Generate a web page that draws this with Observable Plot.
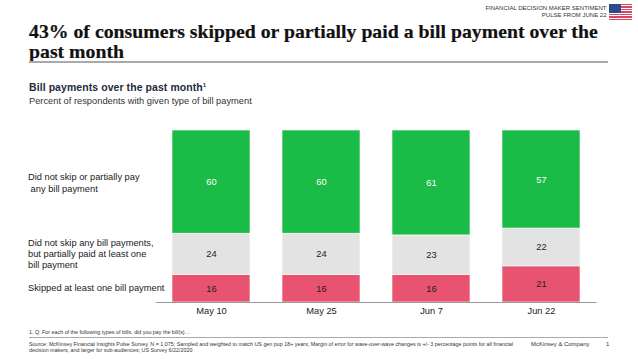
<!DOCTYPE html>
<html><head><meta charset="utf-8">
<script src="https://cdn.jsdelivr.net/npm/d3@7"></script>
<script src="https://cdn.jsdelivr.net/npm/@observablehq/plot@0.6"></script>
<style>
html,body{margin:0;padding:0;background:#fff;}
#page{position:relative;width:638px;height:359px;overflow:hidden;font-family:"Liberation Sans",Arial,sans-serif;color:#222;}
#page>div{position:absolute;white-space:nowrap;}
#chart{left:0;top:0;}
#chart svg{display:block;}
.title{left:29px;top:20.5px;font:bold 19.78px/20px "Liberation Serif",serif;color:#111;-webkit-text-stroke:.2px #111;}
.rule{background:#aaa;left:29px;width:579px;}
.sub1{left:29px;top:81px;font:bold 10.45px/13px "Liberation Sans";color:#1d2b3a;letter-spacing:.1px;}
.sub1 sup{font-size:6px;line-height:0;}
.sub2{left:29px;top:95px;font:9.3px/13px "Liberation Sans";color:#333;}
.head{right:31.5px;top:5px;text-align:right;font:6px/7px "Liberation Sans";color:#333;}
.row{left:28px;font:9.3px/11.2px "Liberation Sans";color:#222;}
.foot{left:29px;font:5.35px/6.2px "Liberation Sans";color:#333;}
#flag{left:609px;top:4px;width:23px;height:16px;background:repeating-linear-gradient(#d9465f 0 1.23px,#fff 1.23px 2.46px);}
#flag i{position:absolute;left:0;top:0;width:11.5px;height:8.6px;background:#2c4a8c;}
</style></head><body>
<div id="page">
<div id="chart"></div>
<div class="head">FINANCIAL DECISION MAKER SENTIMENT<br>PULSE FROM JUNE 22</div>
<div id="flag"><i></i></div>
<div class="title">43% of consumers skipped or partially paid a bill payment over the<br>past month</div>
<div class="rule" style="top:61px;height:1.5px"></div>
<div class="sub1">Bill payments over the past month<sup>1</sup></div>
<div class="sub2">Percent of respondents with given type of bill payment</div>
<div class="row" style="top:170.5px;line-height:12px">Did not skip or partially pay<br>&nbsp;any bill payment</div>
<div class="row" style="top:238px">Did not skip any bill payments,<br>but partially paid at least one<br>bill payment</div>
<div class="row" style="top:283px">Skipped at least one bill payment</div>
<div class="foot" style="top:329px">1. Q: For each of the following types of bills, did you pay the bill(s)…</div>
<div class="rule" style="top:337px;height:.8px"></div>
<div class="foot" style="top:340.5px">Source: McKinsey Financial Insights Pulse Survey, N = 1,075; Sampled and weighted to match US gen pop 18+ years; Margin of error for wave-over-wave changes is +/- 3 percentage points for all financial<br>decision makers, and larger for sub-audiences; US Survey 6/22/2020</div>
<div class="foot" style="left:531px;top:340.5px;font-size:5.95px">McKinsey &amp; Company</div>
<div class="foot" style="left:606px;top:340.5px;font-size:5.95px">1</div>
</div>
<script>
const waves = ["May 10", "May 25", "Jun 7", "Jun 22"];
const skipped = [16, 16, 16, 21];
const partial = [24, 24, 23, 22];
const paid = [60, 60, 61, 57];
const segments = ["Skipped", "Partial", "Paid"];
const segmentColors = ["#e8536f", "#e3e3e3", "#1bbb47"];
const segmentText = ["#222", "#222", "#ffffff"];

const rows = [];
[skipped, partial, paid].forEach((vals, s) => vals.forEach((v, i) => rows.push({wave: waves[i], segment: segments[s], value: v})));

const stack = {x: "wave", y: "value", z: "segment", order: segments};
const chart = Plot.plot({
  width: 638, height: 359,
  marginLeft: 156, marginRight: 41.4, marginTop: 130, marginBottom: 57,
  style: {background: "transparent", fontFamily: "'Liberation Sans',Arial,sans-serif"},
  x: {domain: waves, paddingInner: 0.292, paddingOuter: 0.146, label: null},
  y: {domain: [0, 100], axis: null},
  color: {domain: segments, range: segmentColors},
  marks: [
    Plot.barY(rows, Plot.stackY({...stack, fill: "segment", stroke: "#fff", strokeWidth: 0.6})),
    Plot.text(rows, Plot.stackY({...stack, text: "value", fontSize: 9.3,
      fill: d => segmentText[segments.indexOf(d.segment)]})),
    Plot.ruleY([0], {stroke: "#999", strokeWidth: 1.2}),
    Plot.axisX({tickSize: 0, tickPadding: 5, fontSize: 9.3, fill: "#222", label: null})
  ]
});
document.getElementById("chart").appendChild(chart);
</script>
</body></html>
